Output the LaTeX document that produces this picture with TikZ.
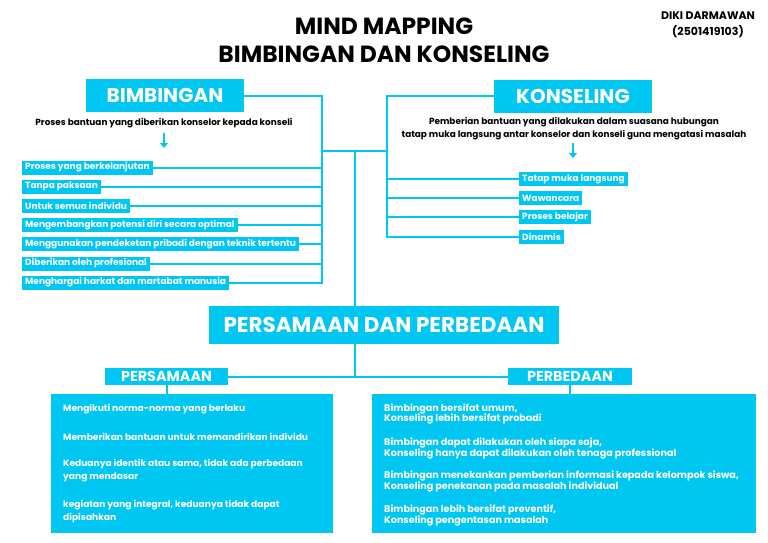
\documentclass[tikz,border=0pt]{standalone}
\usepackage{fontspec}
\setmainfont{Poppins}
\usetikzlibrary{positioning,arrows.meta}
\definecolor{skyfill}{RGB}{0,198,242}

\begin{document}
\begin{tikzpicture}[x=1pt,y=1pt,
  headbox/.style={fill=skyfill,text=white,inner sep=0pt,font=\bfseries\fontsize{20}{20}\selectfont,minimum width=158pt,minimum height=33pt},
  subbox/.style={fill=skyfill,text=white,inner sep=0pt,font=\bfseries\fontsize{14.4}{14.4}\selectfont,minimum height=17pt},
  itembox/.style={fill=skyfill,text=white,anchor=west,inner xsep=3pt,inner ysep=0pt,minimum height=14pt,font=\bfseries\fontsize{9}{9}\selectfont},
  desc/.style={inner sep=0pt,align=center,font=\bfseries\fontsize{8.9}{12.5}\selectfont},
  bigbox/.style={fill=skyfill,draw=none},
  samepara/.style={text=white,anchor=west,inner sep=0pt,align=left,font=\bfseries\fontsize{9.1}{13}\selectfont},
  diffpara/.style={text=white,anchor=west,inner sep=0pt,align=left,font=\bfseries\fontsize{9.6}{10.8}\selectfont},
  link/.style={skyfill,line width=2pt},
  pointer/.style={skyfill,line width=2.6pt,-{Triangle[width=8pt,length=5pt]}}]
\useasboundingbox (0,0) rectangle (768,-543);

% title and author
\node (title) [inner sep=0pt,align=center,font=\bfseries\fontsize{23.4}{28}\selectfont] at (384,-40.5) {MIND MAPPING\\BIMBINGAN DAN KONSELING};
\node (author) [inner sep=0pt,align=center,font=\bfseries\fontsize{11}{15.5}\selectfont] at (708,-25) {DIKI DARMAWAN\\(2501419103)};

% the two main topics
\node (bim) [headbox] at (165,-95.5) {BIMBINGAN};
\node (kon) [headbox] at (573,-96) {KONSELING};
\node (bimdesc) [desc] at (164,-123) {Proses bantuan yang diberikan konselor kepada konseli};
\node (kondesc) [desc] at (574,-128.5) {Pemberian bantuan yang dilakukan dalam suasana hubungan\\tatap muka langsung antar konselor dan konseli guna mengatasi masalah};
\coordinate (bimarr) at (164,-148);
\coordinate (konarr) at (573,-158);
\draw [pointer] (164,-133) -- (bimarr);
\draw [pointer] (573,-143) -- (konarr);

% items of bimbingan
\node (b1) [itembox] at (22,-167.5) {Proses yang berkelanjutan};
\node (b2) [itembox] at (22,-186.5) {Tanpa paksaan};
\node (b3) [itembox] at (22,-205.5) {Untuk semua individu};
\node (b4) [itembox] at (22,-225) {Mengembangkan potensi diri secara optimal};
\node (b5) [itembox] at (22,-244) {Menggunakan pendeketan pribadi dengan teknik tertentu};
\node (b6) [itembox] at (22,-263.5) {Diberikan oleh profesional};
\node (b7) [itembox] at (22,-282.5) {Menghargai harkat dan martabat manusia};

% items of konseling
\node (k1) [itembox] at (519,-179) {Tatap muka langsung};
\node (k2) [itembox] at (519,-198) {Wawancara};
\node (k3) [itembox] at (519,-217) {Proses belajar};
\node (k4) [itembox] at (519,-236.5) {Dinamis};

% trunk
\coordinate (bimtop) at (322,-95.5);
\coordinate (bimjoin) at (322,-151);
\coordinate (midjoin) at (355,-151);
\coordinate (konjoin) at (387,-151);
\coordinate (kontop) at (387,-96);
\draw [link] (bim.east) -- (bimtop) -- (bimtop |- b7.east) -- (b7.east);
\foreach \i in {1,...,6}
  \draw [link] (b\i.east) -- (b\i.east -| bimtop);
\draw [link] (kon.west) -- (kontop) -- (kontop |- k4.west) -- (k4.west);
\foreach \i in {1,2,3}
  \draw [link] (k\i.west) -- (k\i.west -| kontop);
\draw [link] (bimjoin) -- (konjoin);

% persamaan dan perbedaan
\node (pdp) [fill=skyfill,text=white,inner sep=0pt,minimum width=350pt,minimum height=38pt,font=\bfseries\fontsize{21.5}{21.5}\selectfont] at (384,-325) {PERSAMAAN DAN PERBEDAAN};
\draw [link] (midjoin) -- (midjoin |- pdp.north);
\node (sama) [subbox,minimum width=123pt] at (166.5,-376.5) {PERSAMAAN};
\node (beda) [subbox,minimum width=124pt] at (570,-376.5) {PERBEDAAN};
\coordinate (pdpjoin) at (355,-376.5);
\draw [link] (pdp.south -| pdpjoin) -- (pdpjoin);
\draw [link] (sama.east) -- (beda.west);

\node (samabox) [bigbox,minimum width=282pt,minimum height=139pt] at (192,-463.5) {};
\node (bedabox) [bigbox,minimum width=384pt,minimum height=139pt] at (564,-463.5) {};
\draw [link] (sama.south) -- (sama.south |- samabox.north);
\draw [link] (beda.south) -- (beda.south |- bedabox.north);

% texts of persamaan
\node (s1) [samepara] at (63,-409) {Mengikuti norma-norma yang berlaku};
\node (s2) [samepara] at (63,-437) {Memberikan bantuan untuk memandirikan individu};
\node (s3) [samepara] at (63,-470.5) {Keduanya identik atau sama, tidak ada perbedaan\\yang mendasar};
\node (s4) [samepara] at (63,-511.5) {kegiatan yang integral, keduanya tidak dapat\\dipisahkan};

% texts of perbedaan
\node (p1) [diffpara] at (384,-414) {Bimbingan bersifat umum,\\Konseling lebih bersifat probadi};
\node (p2) [diffpara] at (384,-448.5) {Bimbingan dapat dilakukan oleh siapa saja,\\Konseling hanya dapat dilakukan oleh tenaga professional};
\node (p3) [diffpara] at (384,-481.5) {Bimbingan menekankan pemberian informasi kepada kelompok siswa,\\Konseling penekanan pada masalah individual};
\node (p4) [diffpara] at (384,-515.5) {Bimbingan lebih bersifat preventif,\\Konseling pengentasan masalah};
\end{tikzpicture}
\end{document}
